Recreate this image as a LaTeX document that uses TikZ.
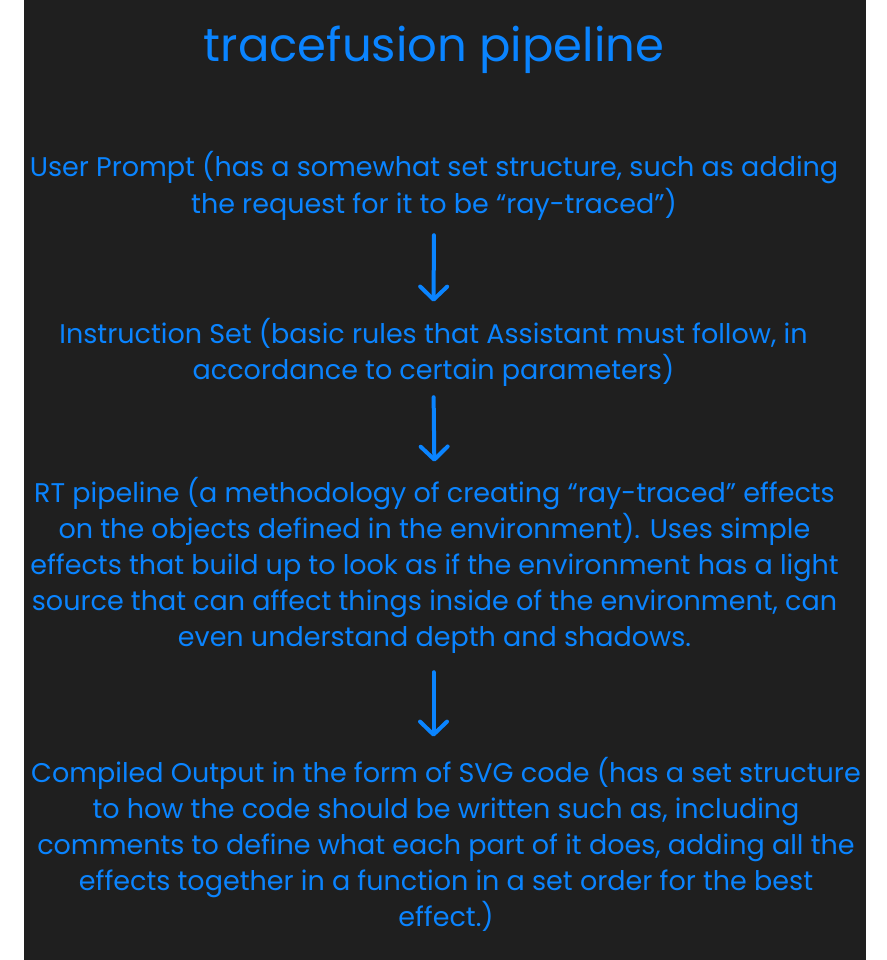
\documentclass[tikz,border=0pt]{standalone}
\usepackage{fontspec}
\setmainfont{Poppins}
\usetikzlibrary{arrows.meta}
\definecolor{bgdark}{HTML}{1F1F1F}
\definecolor{neon}{HTML}{0A84FF}
\begin{document}
\begin{tikzpicture}[x=1pt,y=-1pt,
  txt/.style={text=neon, font=\fontsize{27}{36}\selectfont, align=center, inner sep=0pt, anchor=base},
  ttl/.style={text=neon, font=\fontsize{46.5}{56}\selectfont, inner sep=0pt, anchor=base},
  arr/.style={draw=neon, line width=4pt, line cap=round,
    -{Straight Barb[length=13pt,width=27pt,line join=round,line cap=round]}}]
\useasboundingbox (0,0) rectangle (886,960);
\fill[white] (0,0) rectangle (886,960);
\fill[bgdark] (24,0) rectangle (866,960);
\node[ttl] (title) at (434,62) {tracefusion pipeline};
\node[txt] (b1) at (434,213) {User Prompt (has a somewhat set structure, such as adding\\the request for it to be “ray-traced”)};
\node[txt] (b2) at (433.5,379) {Instruction Set (basic rules that Assistant must follow, in\\accordance to certain parameters)};
\node[txt] (b3) at (434.5,646) {RT pipeline (a methodology of creating “ray-traced” effects\\on the objects defined in the environment). Uses simple\\effects that build up to look as if the environment has a light\\source that can affect things inside of the environment, can\\even understand depth and shadows.};
\node[txt] (b4) at (446,926) {Compiled Output in the form of SVG code (has a set structure\\to how the code should be written such as, including\\comments to define what each part of it does, adding all the\\effects together in a function in a set order for the best\\effect.)};
\draw[arr, shorten <=15pt, shorten >=16pt] (b1.south) -- (b2.north);
\draw[arr, shorten <=11pt, shorten >=15pt] (b2.south) -- (b3.north);
\draw[arr, shorten <=19pt, shorten >=20pt] (b3.south -| b2.south) -- (b2.south |- b4.north);
\end{tikzpicture}
\end{document}
